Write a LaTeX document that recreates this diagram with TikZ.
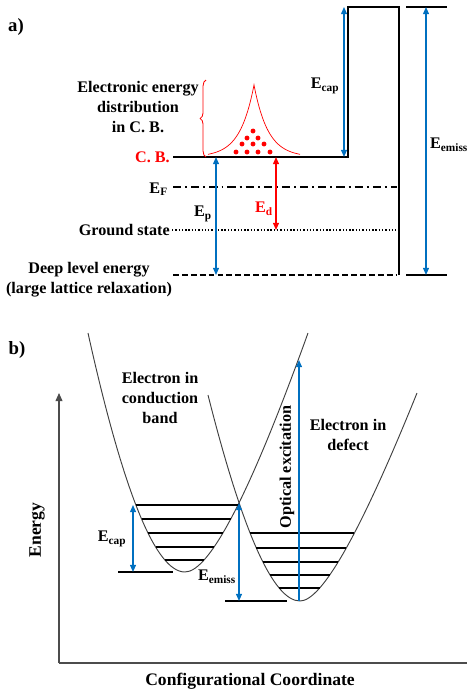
\documentclass[tikz,border=0pt]{standalone}
\usepackage{fontspec}
\setmainfont{Liberation Serif}
\usetikzlibrary{arrows.meta,decorations.pathreplacing}
\definecolor{eblue}{RGB}{0,112,192}
\definecolor{ered}{RGB}{255,0,0}

\begin{document}
\begin{tikzpicture}[x=0.03cm, y=-0.03cm,
  lbl/.style={font=\bfseries\fontsize{13.8}{17}\selectfont, inner sep=0pt, align=center},
  axlbl/.style={font=\bfseries\fontsize{15}{18}\selectfont, inner sep=0pt},
  part/.style={font=\bfseries\fontsize{16}{19}\selectfont, inner sep=0pt},
  band/.style={line width=2pt},
  tip/.tip={Triangle[width=5pt,length=6pt]},
  both/.style={line width=1pt, tip-tip},
  up/.style={line width=1pt, -tip},
  well/.style={draw=black!75, line width=0.8pt},
  vib/.style={line width=0.9pt}]

\useasboundingbox (0,0) rectangle (474,695);

%% a) band picture
\node[part] (la) at (16,27) {a)};

\coordinate (cbl) at (173,157);
\coordinate (cbr) at (348,157);
\coordinate (captop) at (348,7);
\coordinate (emtop) at (399,7);
\coordinate (embot) at (399,275);
\draw[band, line join=miter] (cbl) -- (cbr) -- (captop) -- (emtop) -- (embot);
\draw[band] (406,7) coordinate (rt) -- (447,7);
\draw[band] (406,275) coordinate (rb) -- (447,275);

\draw[line width=1.8pt, dash pattern=on 7pt off 3.4pt on 1.7pt off 3.4pt]
  (173,187) coordinate (efl) -- (397,187);
\draw[line width=1.2pt, dash pattern=on 1.2pt off 1.6pt]
  (172,230) coordinate (gsl) -- (397,230);
\draw[line width=2pt, dash pattern=on 5pt off 2.6pt]
  (173,275) coordinate (dll) -- (397,275);

% distribution in the conduction band
\draw[ered, line width=0.6pt] plot[domain=-46:46, samples=93]
  ({254+\x}, {157-72*exp(-abs(\x)/14)});
\foreach \p in {(253,131),(247,138),(258,138),(242,144),(253,144),(264,144),
                (236,152),(247,152),(258,152),(270,152)}
  \fill[ered] \p circle (2.1pt);
\draw[ered, line width=0.7pt, decorate, decoration={brace, amplitude=5pt}]
  (206,157) -- (206,80);

% energies
\coordinate (ep0) at (216,157);
\coordinate (ep1) at (216,275);
\draw[eblue, both] (ep0) -- (ep1);
\coordinate (ed0) at (276,157);
\coordinate (ed1) at (276,230);
\draw[ered, both] (ed0) -- (ed1);
\coordinate (ec0) at (344,7);
\coordinate (ec1) at (344,157);
\draw[eblue, both] (ec0) -- (ec1);
\coordinate (ee0) at (426,7);
\coordinate (ee1) at (426,275);
\draw[eblue, both] (ee0) -- (ee1);

\node[lbl] (distlab) at (138,107) {Electronic energy\\distribution\\in C. B.};
\node[lbl, ered, anchor=east] (cblab) at (170,157) {C. B.};
\node[lbl, anchor=east] (eflab) at (168,189) {E\textsubscript{F}};
\node[lbl, anchor=east] (gslab) at (170,230) {Ground state};
\node[lbl] (dllab) at (89,280) {Deep level energy\\(large lattice relaxation)};
\node[lbl] (eplab) at (203,214) {E\textsubscript{p}};
\node[lbl, ered] (edlab) at (264,209) {E\textsubscript{d}};
\node[lbl] (ecaplab) at (325,86) {E\textsubscript{cap}};
\node[lbl] (emisslab) at (449,145) {E\textsubscript{emiss}};

%% b) configuration coordinate diagram
\node[part] (lb) at (17,350) {b)};

\coordinate (org) at (59,663);
\coordinate (etop) at (59,393);
\coordinate (cend) at (467,663);
\draw[black!70, line width=1pt, -{Triangle[width=6pt,length=7pt]}] (org) -- (etop);
\draw[black!70, line width=1pt] (org) -- (cend);

% conduction band well and defect well
\draw[well] (88,333) .. controls (123.3,492.3) and (155.7,572) .. (185,572)
  .. controls (209.7,572) and (250.7,492.3) .. (308,333);
\draw[well] (208,395) .. controls (242.7,532.3) and (273.3,601) .. (300,601)
  .. controls (322,601) and (361,531.7) .. (417,393);

\foreach \y/\a/\b in {505/136/239, 519/142/231, 533/148/223, 547/156/214, 560/165/204}
  \draw[vib] (\a,\y) -- (\b,\y);
\foreach \y/\a/\b in {533/250/354, 548/256/346, 562/263/338, 575/270/330, 588/279/320}
  \draw[vib] (\a,\y) -- (\b,\y);
\draw[vib] (118,572) coordinate (cbase) -- (173,572);
\draw[vib] (225,601) coordinate (dbase) -- (287,601);

\coordinate (c0) at (133,505);
\coordinate (c1) at (133,572);
\draw[eblue, both] (c0) -- (c1);
\coordinate (x0) at (239,503);
\coordinate (x1) at (239,601);
\draw[eblue, both] (x0) -- (x1);
\coordinate (o0) at (299,601);
\coordinate (o1) at (299,360);
\draw[eblue, up] (o0) -- (o1);

\node[lbl] (cbandlab) at (160,398) {Electron in\\conduction\\band};
\node[lbl] (deflab) at (348,435) {Electron in\\defect};
\node[lbl, rotate=90] (optlab) at (287,467) {Optical excitation};
\node[lbl] (ecap2lab) at (112,539) {E\textsubscript{cap}};
\node[lbl] (emiss2lab) at (217,577) {E\textsubscript{emiss}};
\node[axlbl, rotate=90] (enlab) at (37,530) {Energy};
\node[axlbl] (cclab) at (250,681) {Configurational Coordinate};

\end{tikzpicture}
\end{document}
